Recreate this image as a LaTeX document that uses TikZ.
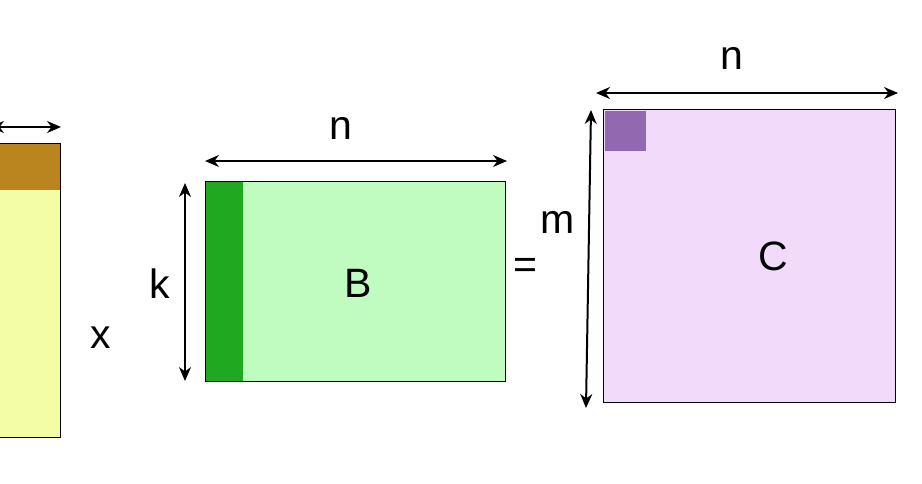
\documentclass[tikz,border=0pt]{standalone}
\usepackage{fontspec}
\usetikzlibrary{arrows.meta}
\setmainfont{Liberation Sans}
\begin{document}
\begin{tikzpicture}[x=1pt,y=-1pt,
  lbl/.style={font=\fontsize{41}{41}\selectfont, inner sep=0pt},
  dim/.style={<->, line width=2pt, >={Stealth[length=14pt,width=12pt]}},
  mat/.style={draw=black, line width=0.9pt}]
\useasboundingbox (0,0) rectangle (922,484);
\clip (0,0) rectangle (922,484);
% A (partial)
\fill[fill={rgb,255:red,243;green,253;blue,166}] (-300,143) rectangle (60,437);
\fill[fill={rgb,255:red,186;green,133;blue,30}] (-300,143) rectangle (60,190);
\draw[mat] (-300,143) rectangle (60,437);
\coordinate (aL) at (-10,127); \coordinate (aR) at (61,127);
\draw[dim] (aL) -- (aR);
\node[lbl] (x) at (101,338) {x};
% B
\fill[fill={rgb,255:red,192;green,252;blue,192}] (205,181) rectangle (505,381);
\fill[fill={rgb,255:red,33;green,168;blue,33}] (205,181) rectangle (243,381);
\draw[mat] (205,181) rectangle (505,381);
\node[lbl] (Bl) at (358,283) {B};
\coordinate (bn1) at (205,161); \coordinate (bn2) at (507,161);
\draw[dim] (bn1) -- (bn2);
\node[lbl] (bn) at (341,128) {n};
\coordinate (bk1) at (185,183); \coordinate (bk2) at (185,381);
\draw[dim] (bk1) -- (bk2);
\node[lbl] (bk) at (160,284) {k};
\node[lbl] (eq) at (525,268) {=};
% C
\fill[fill={rgb,255:red,242;green,218;blue,250}] (603,109) rectangle (895,402);
\fill[fill={rgb,255:red,146;green,104;blue,176}] (605,111) rectangle (646,151);
\draw[mat] (603,109) rectangle (895,402);
\node[lbl] (Cl) at (773,256) {C};
\coordinate (cn1) at (596,93); \coordinate (cn2) at (898,93);
\draw[dim] (cn1) -- (cn2);
\node[lbl] (cn) at (732,58) {n};
\coordinate (cm1) at (591,110); \coordinate (cm2) at (586,408);
\draw[dim] (cm1) -- (cm2);
\node[lbl] (cm) at (558,222) {m};
\end{tikzpicture}
\end{document}
